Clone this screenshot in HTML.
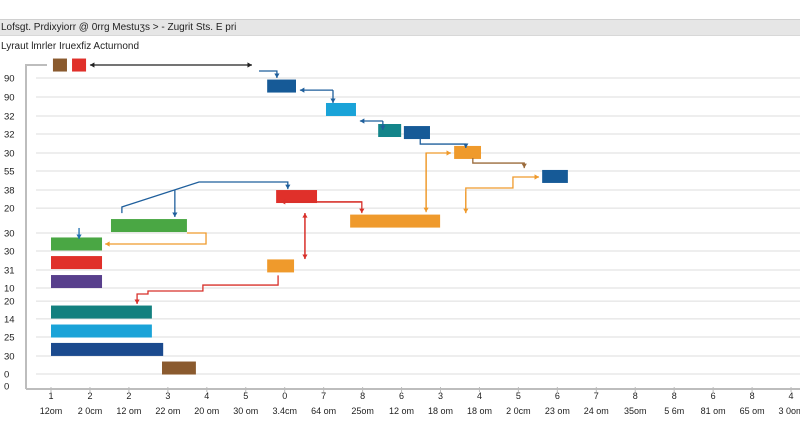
<!DOCTYPE html>
<html><head><meta charset="utf-8"><style>
html,body{margin:0;padding:0;background:#fff;width:800px;height:437px;overflow:hidden;font-family:"Liberation Sans",sans-serif}
#hdr{position:absolute;left:0;top:19px;width:800px;height:15px;background:#e6e6e6;border-top:1px solid #d0d0d0;border-bottom:1px solid #d8d8d8;font-size:10px;line-height:15px;color:#222;padding-left:1px}
#sub{position:absolute;left:1px;top:41px;font-size:10px;color:#222}
svg{position:absolute;left:0;top:0}
</style></head><body>
<div id="hdr">Lofsgt. Prdixyiorr @ 0rrg Mestuʒs &gt; - Zugrit Sts. E pri</div>
<div id="sub">Lyraut lmrler Iruexfiz Acturnond</div>
<svg id="chart" width="800" height="437"></svg>
<script>
const yTickVals=[16.61,15.59,14.57,13.60,12.58,11.61,10.59,9.62,8.28,7.31,6.29,5.32,4.62,3.66,2.69,1.67,0.70,0.05];
const yTickLabels=["90","90","32","32","30","55","38","20","30","30","31","10","20","14","25","30","0","0"];
const xTickLabels=["1","2","2","3","4","5","0","7","8","6","3","4","5","6","7","8","8","6","8","4"];
const xSubLabels=["12om","2 0cm","12 om","22 om","20 om","30 om","3.4cm","64 om","25om","12 om","18 om","18 om","2 0cm","23 om","24 om","35om","5 6m","81 om","65 om","3 0om"];
const taskStart=[0.05,0.54,5.55,7.06,8.40,9.06,10.35,12.61,5.78,7.68,1.54,0,0,0,5.55,0,0,0,2.85];
const taskEnd=[0.41,0.90,6.29,7.83,8.99,9.73,11.04,13.27,6.83,9.99,3.49,1.31,1.31,1.31,6.24,2.59,2.59,2.88,3.72];
const taskRow=[17.31,17.31,16.18,14.92,13.79,13.68,12.61,11.32,10.24,8.92,8.68,7.69,6.69,5.67,6.51,4.03,3.01,2.02,1.02];
const taskColor=["#8a5a2e","#e0302a","#165a97","#1aa3d8","#13858a","#165a97","#ef9a2c","#165a97","#e0302a","#ef9a2c","#4aa744","#4aa744","#e0302a","#583f8c","#ef9a2c","#13807f","#1aa3d8","#1b4a8e","#8a5a2e"];
const linkPts=[
 [[1.0,17.31],[5.16,17.31]],
 [[5.34,16.99],[5.80,16.99],[5.80,16.61]],
 [[7.24,15.96],[6.39,15.96]],
 [[7.24,15.96],[7.24,15.27]],
 [[8.52,14.30],[7.93,14.30]],
 [[8.52,14.30],[8.52,13.82]],
 [[9.48,13.39],[9.48,13.06],[10.65,13.06],[10.65,12.85]],
 [[10.83,12.31],[10.83,12.04],[12.15,12.04],[12.15,11.77]],
 [[9.63,9.49],[9.63,12.58],[10.27,12.58]],
 [[9.63,12.58],[9.63,9.40]],
 [[10.65,9.35],[10.65,10.70],[11.86,10.70],[11.86,11.29],[12.53,11.29]],
 [[10.65,10.5],[10.65,9.35]],
 [[1.82,9.35],[1.82,9.68],[3.80,11.02],[6.08,11.02],[6.08,10.64]],
 [[3.18,10.59],[3.18,9.14]],
 [[5.90,9.95],[7.98,9.95],[7.98,9.35]],
 [[7.98,9.95],[5.90,9.95]],
 [[6.52,9.35],[6.52,6.88]],
 [[6.52,6.88],[6.52,9.35]],
 [[3.49,8.28],[3.98,8.28],[3.98,7.69],[1.39,7.69]],
 [[0.72,8.55],[0.72,7.96]],
 [[5.83,6.0],[5.83,5.48],[3.90,5.48],[3.90,5.16],[2.49,5.16],[2.49,5.0],[2.21,5.0],[2.21,4.46]]
];
const linkColor=["#222","#1f5f9c","#1f5f9c","#1f5f9c","#1f5f9c","#1f5f9c","#1f5f9c","#9a6a3a","#ef9a2c","#ef9a2c","#ef9a2c","#ef9a2c","#1f5f9c","#1f5f9c","#d8302a","#d8302a","#d8302a","#d8302a","#ef9a2c","#1f6fb0","#d8302a"];
const X0=51,XS=38.95,Y0=387,YS=18.6,BH=13;
function xs(u){return X0+u*XS}
function ys(v){return Y0-v*YS}
const svg=document.getElementById('chart');const NS="http://www.w3.org/2000/svg";
function mk(t,a){const e=document.createElementNS(NS,t);for(const k in a)e.setAttribute(k,a[k]);svg.appendChild(e);return e}
yTickVals.forEach((v,i)=>{
 if(i<yTickVals.length-1){const g=mk('line',{x1:36,x2:800,y1:ys(v),y2:ys(v),stroke:'#dedede','stroke-width':1});
 
 }
 const t=mk('text',{x:4,y:ys(v)+3.5,'font-size':9.5,fill:'#222'});t.textContent=yTickLabels[i];
 
 
});
const ax=mk('path',{d:'M26 '+(Y0+2)+' V65 H47 M26 '+(Y0+2)+' H800',stroke:'#bdbdbd','stroke-width':2,fill:'none'});


xTickLabels.forEach((l,i)=>{
 const x=xs(i);
 const tk=mk('line',{x1:x,x2:x,y1:Y0,y2:Y0+5,stroke:'#bbb'});
 
 
 const t=mk('text',{x:x,y:399,'font-size':9,fill:'#222','text-anchor':'middle'});t.textContent=l;
 
 
 const s=mk('text',{x:x,y:414,'font-size':9,fill:'#222','text-anchor':'middle'});s.textContent=xSubLabels[i];
 
 
});
taskStart.forEach((s,i)=>{
 const r=mk('rect',{x:xs(s),y:ys(taskRow[i])-BH/2,width:xs(taskEnd[i])-xs(s),height:BH,fill:taskColor[i]});
 
 
});
linkPts.forEach((pts,i)=>{
 const p=pts.map(q=>[xs(q[0]),ys(q[1])]);
 const l=mk('polyline',{points:p.map(q=>q.join(',')).join(' '),fill:'none',stroke:linkColor[i],'stroke-width':1.3});
 
 
 const a=p[p.length-1],b=p[p.length-2];const ang=Math.atan2(a[1]-b[1],a[0]-b[0]);
 const h=4.5,w=2.6;
 const pts2=[a,[a[0]-h*Math.cos(ang)+w*Math.sin(ang),a[1]-h*Math.sin(ang)-w*Math.cos(ang)],[a[0]-h*Math.cos(ang)-w*Math.sin(ang),a[1]-h*Math.sin(ang)+w*Math.cos(ang)]];
 const ah=mk('polygon',{points:pts2.map(q=>q.join(',')).join(' '),fill:linkColor[i]});
 
 
});
(function(){const a=[xs(linkPts[0][0][0]),ys(linkPts[0][0][1])];
 const ah=mk('polygon',{points:a[0]+','+a[1]+' '+(a[0]+4.5)+','+(a[1]-2.6)+' '+(a[0]+4.5)+','+(a[1]+2.6),fill:'#222'});
 
 })();
</script>
</body></html>
